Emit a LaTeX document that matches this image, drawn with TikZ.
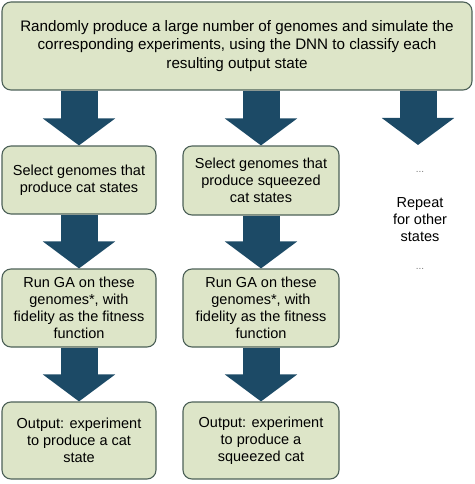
\documentclass[tikz,border=0pt]{standalone}
\usepackage{fontspec}
\setmainfont{Liberation Sans}
\usetikzlibrary{arrows.meta,backgrounds,calc}
\definecolor{boxfill}{HTML}{DDE5C8}
\definecolor{boxline}{HTML}{4D6158}
\definecolor{arrowcol}{HTML}{1C4A66}
\definecolor{dotcol}{HTML}{7A7A7A}
\begin{document}
\begin{tikzpicture}[x=1pt,y=-1pt,
  stepbox/.style={draw=boxline, line width=1.1pt, fill=boxfill, rounded corners=9pt,
    align=center, inner sep=0pt, font=\fontsize{14.5}{17}\selectfont},
  bigarrow/.style={draw=arrowcol, line width=37pt,
    -{Triangle[width=71pt,length=27pt]}},
  plain/.style={align=center, font=\fontsize{14.5}{17}\selectfont},
  dots/.style={text=dotcol, font=\fontsize{10}{10}\selectfont}]
\useasboundingbox (0,0) rectangle (474,484);
% boxes
\node[stepbox, minimum width=470pt, minimum height=88pt, font=\fontsize{15.2}{18.5}\selectfont] (top) at (237,46)
  {Randomly produce a large number of genomes and simulate the\\corresponding experiments, using the DNN to classify each\\resulting output state};
\node[stepbox, minimum width=154pt, minimum height=68pt] (L1) at (79,180)
  {Select genomes that\\produce cat states};
\node[stepbox, minimum width=156pt, minimum height=69pt] (M1) at (261,180.5)
  {Select genomes that\\produce squeezed\\cat states};
\node[stepbox, minimum width=154pt, minimum height=78pt] (L2) at (79,308)
  {Run GA on these\\genomes*, with\\fidelity as the fitness\\function};
\node[stepbox, minimum width=156pt, minimum height=78pt] (M2) at (261,308)
  {Run GA on these\\genomes*, with\\fidelity as the fitness\\function};
\node[stepbox, minimum width=154pt, minimum height=77pt] (L3) at (79,440.5)
  {Output: experiment\\to produce a cat\\state};
\node[stepbox, minimum width=156pt, minimum height=77pt] (M3) at (261,440.5)
  {Output: experiment\\to produce a\\squeezed cat};
% right column
\coordinate (R) at (418,145);
\node[dots] (d1) at (420,172) {...};
\node[plain] (rep) at (420,220) {Repeat\\for other\\states};
\node[dots] (d2) at (420,269) {...};
% arrows
\begin{scope}[on background layer]
\draw[bigarrow] (L1.north |- top.south) -- (L1.north);
\draw[bigarrow] (M1.north |- top.south) -- (M1.north);
\draw[bigarrow] (R |- top.south) -- (R);
\draw[bigarrow] (L1.south) -- (L2.north);
\draw[bigarrow] (M1.south) -- (M2.north);
\draw[bigarrow] (L2.south) -- (L3.north);
\draw[bigarrow] (M2.south) -- (M3.north);
\end{scope}
\end{tikzpicture}
\end{document}
